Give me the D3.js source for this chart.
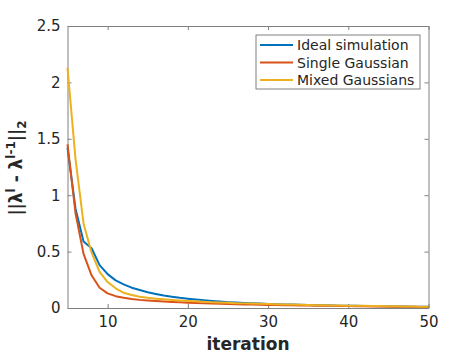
<!DOCTYPE html>
<html><head><meta charset="utf-8">
<script src="https://cdn.jsdelivr.net/npm/d3@7"></script>
<style>body{margin:0;background:#fff}svg{display:block}</style>
</head><body>
<svg id="c" width="474" height="355"></svg>
<script>
const iterations = d3.range(5, 51);
const ideal = [1.42,0.88,0.59,0.53,0.38,0.30,0.245,0.21,0.18,0.16,0.14,0.125,0.11,0.10,0.09,0.082,0.075,0.068,0.062,0.057,0.052,0.048,0.045,0.042,0.039,0.036,0.034,0.032,0.030,0.028,0.026,0.025,0.024,0.022,0.021,0.020,0.019,0.018,0.017,0.016,0.015,0.014,0.013,0.012,0.011,0.010];
const single = [1.45,0.84,0.48,0.29,0.18,0.13,0.105,0.09,0.08,0.072,0.066,0.061,0.057,0.053,0.050,0.047,0.044,0.041,0.039,0.037,0.035,0.033,0.031,0.030,0.028,0.027,0.026,0.025,0.024,0.023,0.022,0.021,0.020,0.019,0.018,0.017,0.016,0.015,0.014,0.013,0.012,0.011,0.011,0.010,0.009,0.008];
const mixed = [2.13,1.32,0.75,0.49,0.32,0.23,0.175,0.135,0.115,0.10,0.09,0.083,0.077,0.072,0.067,0.063,0.059,0.055,0.052,0.049,0.046,0.043,0.041,0.039,0.037,0.035,0.033,0.031,0.030,0.028,0.027,0.025,0.024,0.023,0.022,0.021,0.020,0.019,0.018,0.017,0.016,0.015,0.014,0.013,0.012,0.011];
const seriesNames = ["Ideal simulation","Single Gaussian","Mixed Gaussians"];
const seriesColors = ["#0072BD","#D95319","#EDB120"];
const xTicks = [10,20,30,40,50];
const yTicks = [0,0.5,1,1.5,2,2.5];

const svg = d3.select("#c");
const L=67.5, R=428.5, T=26, B=308;
const x = d3.scaleLinear().domain([5,50]).range([L,R]);
const y = d3.scaleLinear().domain([0,2.5]).range([B,T]);
const font = "DejaVu Sans, sans-serif";
const axisCol = "#808080", txtCol = "#262626";

// axes
const xa = svg.append("g").attr("transform",`translate(0,${B})`)
  .call(d3.axisBottom(x).tickValues(xTicks).tickSizeInner(-4).tickSizeOuter(0).tickPadding(8).tickFormat(d3.format("d")));
const xt = svg.append("g").attr("transform",`translate(0,${T})`)
  .call(d3.axisTop(x).tickValues(xTicks).tickSizeInner(-4).tickSizeOuter(0).tickFormat(""));
const ya = svg.append("g").attr("transform",`translate(${L},0)`)
  .call(d3.axisLeft(y).tickValues(yTicks).tickSizeInner(-4).tickSizeOuter(0).tickPadding(7).tickFormat(d=>String(d)));
const yr = svg.append("g").attr("transform",`translate(${R},0)`)
  .call(d3.axisRight(y).tickValues(yTicks).tickSizeInner(-4).tickSizeOuter(0).tickFormat(""));
[xa,xt,ya,yr].forEach(g=>{
  g.selectAll(".domain").attr("stroke",axisCol).attr("stroke-width",1);
  g.selectAll(".tick line").attr("stroke",axisCol);
  g.selectAll(".tick text").attr("fill",txtCol).style("font-family",font).style("font-size","15px");
});

// lines
const allSeries=[ideal,single,mixed];
const line = d3.line().x((d,i)=>x(iterations[i])).y(d=>y(d));
allSeries.forEach((s,k)=>{
  svg.append("path").datum(s).attr("d",line).attr("fill","none")
    .attr("stroke",seriesColors[k]).attr("stroke-width",2).attr("stroke-linejoin","round");
});

// legend
const lg = svg.append("g");
lg.append("rect").attr("x",256).attr("y",35).attr("width",164).attr("height",54)
  .attr("fill","#fff").attr("stroke",axisCol).attr("stroke-width",1);
seriesNames.forEach((n,k)=>{
  const cy = 45 + k*17.5;
  lg.append("line").attr("x1",260).attr("x2",293).attr("y1",cy).attr("y2",cy)
    .attr("stroke",seriesColors[k]).attr("stroke-width",2);
  lg.append("text").attr("x",297).attr("y",cy+5).text(n)
    .attr("fill",txtCol).style("font-family",font).style("font-size","14px");
});

// x label
svg.append("text").attr("x",(L+R)/2).attr("y",350).attr("text-anchor","middle")
  .style("font-family",font).style("font-size","17px").style("font-weight","bold").attr("fill",txtCol)
  .text("iteration");

// y label
const yl = svg.append("text").attr("transform","translate(22,168) rotate(-90)").attr("text-anchor","middle")
  .style("font-family",font).style("font-size","17px").style("font-weight","bold").attr("fill",txtCol);
yl.append("tspan").text("||λ");
yl.append("tspan").attr("dy",-7).style("font-size","12px").text("l");
yl.append("tspan").attr("dy",7).text(" - λ");
yl.append("tspan").attr("dy",-7).style("font-size","12px").text("l-1");
yl.append("tspan").attr("dy",7).text("||");
yl.append("tspan").attr("dy",4).style("font-size","12px").text("2");
</script>
</body></html>
